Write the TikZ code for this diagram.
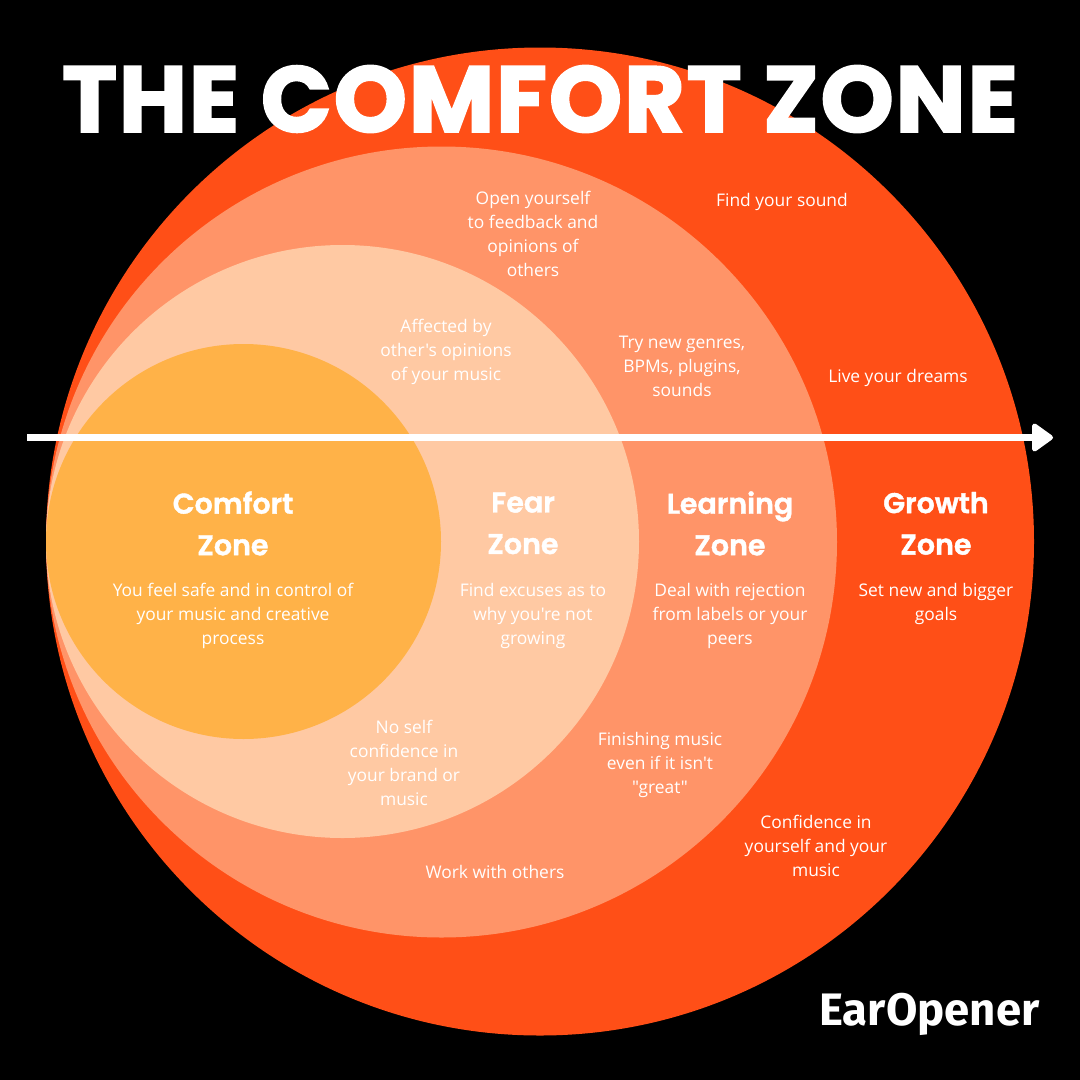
\documentclass[tikz,border=0pt]{standalone}
\usepackage{fontspec}
\setmainfont{Open Sans}
\newfontfamily\bodyfont{Open Sans}
\newfontfamily\titlefont[FakeBold=2.2,LetterSpace=2.1]{Poppins Bold}
\newfontfamily\headfont[FakeBold=1.4]{Poppins SemiBold}
\newfontfamily\logofont{Fira Sans Bold}
\tikzset{
  x=1pt,y=-1pt,
  zone/.style={circle,inner sep=0pt,outer sep=0pt,minimum size=#1},
  body/.style={text=white,align=center,inner sep=0pt,yshift=-2.7pt,font=\bodyfont\fontsize{17.4}{24}\selectfont,
    execute at begin node=\strut,execute at end node=\strut},
  head/.style={text=white,align=center,inner sep=0pt,yshift=-5.5pt,font=\headfont\fontsize{28.5}{41.5}\selectfont,
    execute at begin node=\strut,execute at end node=\strut},
  titletext/.style={text=white,inner sep=0pt,font=\titlefont\fontsize{93}{93}\selectfont},
  logotext/.style={text=white,inner sep=0pt,font=\logofont\fontsize{45.5}{46}\selectfont},
}
\definecolor{growthc}{HTML}{FF4F17}
\definecolor{learnc}{HTML}{FF9468}
\definecolor{fearc}{HTML}{FFC9A3}
\definecolor{comfortc}{HTML}{FFB248}
\begin{document}
\begin{tikzpicture}
\useasboundingbox (0,0) rectangle (1080,1080);
\fill[black] (0,0) rectangle (1080,1080);
\node[zone=988pt,fill=growthc] (growth) at (540,541.5) {};
\node[zone=791pt,fill=learnc] (learning) at (441.5,542) {};
\node[zone=593pt,fill=fearc] (fear) at (342.5,541.5) {};
\node[zone=395pt,fill=comfortc] (comfort) at (243.5,541.5) {};
% axis
\coordinate (axisstart) at (27,437.5);
\coordinate (axisend) at (1036,437.5);
\draw[white,line width=7pt] (axisstart) -- (axisend);
\fill[white,draw=white,line width=5pt,line join=round] (1034.5,426) -- (1050.5,437.5) -- (1034.5,449) -- cycle;
% title
\node[titletext] (title) at (540,99) {THE COMFORT ZONE};
% headings
\node[head] (h1) at (233,524) {Comfort\\Zone};
\node[head] (h2) at (523,524) {Fear\\Zone};
\node[head] (h3) at (730,524) {Learning\\Zone};
\node[head] (h4) at (936,524) {Growth\\Zone};
% descriptions
\node[body] (t1) at (233,615) {You feel safe and in control of\\your music and creative\\process};
\node[body] (t2) at (533,615) {Find excuses as to\\why you're not\\growing};
\node[body] (t3) at (730,615) {Deal with rejection\\from labels or your\\peers};
\node[body] (t4) at (936,603) {Set new and bigger\\goals};
\node[body] (t5) at (533,235) {Open yourself\\to feedback and\\opinions of\\others};
\node[body] (t6) at (782,199) {Find your sound};
\node[body] (t7) at (898,375) {Live your dreams};
\node[body] (t8) at (682,367) {Try new genres,\\BPMs, plugins,\\sounds};
\node[body] (t9) at (446,351) {Affected by\\other's opinions\\of your music};
\node[body] (t10) at (404,764) {No self\\confidence in\\your brand or\\music};
\node[body] (t11) at (660,764) {Finishing music\\even if it isn't\\"great"};
\node[body] (t12) at (816,847) {Confidence in\\yourself and your\\music};
\node[body] (t13) at (495,871) {Work with others};
% logo
\node[logotext] (logo) at (929.5,1014) {EarOpener};
\end{tikzpicture}
\end{document}
